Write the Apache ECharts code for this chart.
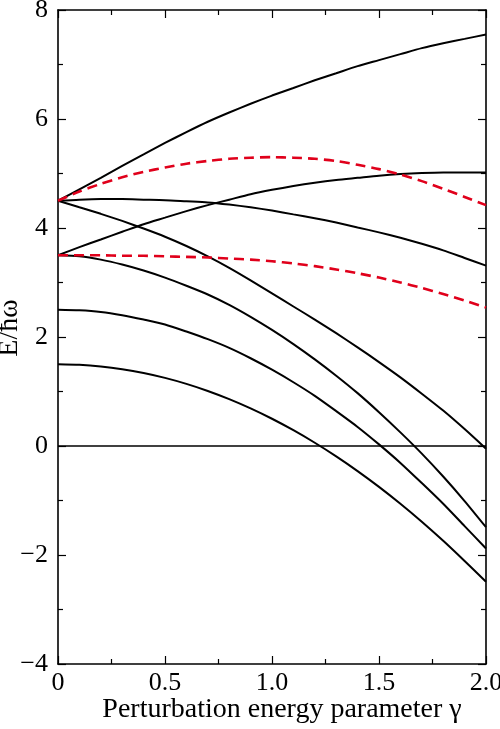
<!DOCTYPE html>
<html>
<head>
<meta charset="utf-8">
<title>E/ħω vs perturbation energy parameter</title>
<script src="https://cdn.jsdelivr.net/npm/echarts@6/dist/echarts.min.js"></script>
<style>
  html, body { margin: 0; padding: 0; background: #fff; }
  #main { width: 500px; height: 729px; }
</style>
</head>
<body>
<div id="main"></div>
<script type="text/javascript">
// perturbation energy parameter gamma (x axis)
var gamma = [0, 0.1, 0.2, 0.3, 0.4, 0.5, 0.6, 0.7, 0.8, 0.9, 1.0,
             1.1, 1.2, 1.3, 1.4, 1.5, 1.6, 1.7, 1.8, 1.9, 2.0];

// solid levels (black)
var levelA = [4.50, 4.71, 4.92, 5.14, 5.35, 5.56, 5.76, 5.95, 6.12, 6.28, 6.43,
              6.57, 6.71, 6.84, 6.97, 7.08, 7.19, 7.30, 7.39, 7.47, 7.55];
var levelB = [4.50, 4.52, 4.53, 4.53, 4.52, 4.51, 4.49, 4.47, 4.43, 4.38, 4.32,
              4.25, 4.18, 4.10, 4.01, 3.92, 3.82, 3.71, 3.59, 3.45, 3.31];
var levelC = [3.50, 3.65, 3.79, 3.93, 4.07, 4.19, 4.31, 4.42, 4.52, 4.62, 4.70,
              4.77, 4.83, 4.88, 4.92, 4.96, 4.99, 5.01, 5.02, 5.02, 5.02];
var levelD = [4.50, 4.38, 4.26, 4.13, 3.99, 3.84, 3.67, 3.48, 3.27, 3.04, 2.80,
              2.56, 2.32, 2.07, 1.81, 1.54, 1.26, 0.96, 0.65, 0.31, -0.05];
var levelE = [3.50, 3.48, 3.42, 3.33, 3.22, 3.09, 2.94, 2.78, 2.59, 2.37, 2.13,
              1.87, 1.59, 1.29, 0.97, 0.62, 0.25, -0.14, -0.56, -1.01, -1.49];
var levelF = [2.50, 2.49, 2.46, 2.40, 2.32, 2.23, 2.10, 1.96, 1.80, 1.61, 1.40,
              1.17, 0.92, 0.64, 0.35, 0.03, -0.31, -0.68, -1.06, -1.47, -1.88];
var levelG = [1.50, 1.49, 1.46, 1.41, 1.34, 1.25, 1.14, 1.01, 0.86, 0.69, 0.50,
              0.29, 0.06, -0.19, -0.46, -0.75, -1.06, -1.39, -1.74, -2.11, -2.49];

// dashed levels (red)
var dashedUpper = [4.50, 4.67, 4.81, 4.93, 5.03, 5.11, 5.18, 5.23, 5.27, 5.29, 5.30,
                   5.29, 5.27, 5.23, 5.16, 5.08, 4.98, 4.86, 4.72, 4.57, 4.42];
var dashedLower = [3.50, 3.50, 3.50, 3.49, 3.49, 3.48, 3.47, 3.46, 3.44, 3.42, 3.39,
                   3.35, 3.30, 3.24, 3.17, 3.09, 3.00, 2.90, 2.79, 2.67, 2.54];

var SERIF = 'Liberation Serif';

function pairs(ys) {
    return gamma.map(function (g, i) { return [g, ys[i]]; });
}

function solid(ys) {
    return {
        type: 'line', data: pairs(ys), smooth: 0.25,
        showSymbol: false, silent: true,
        lineStyle: { color: '#000', width: 2 }
    };
}

function dashed(ys) {
    return {
        type: 'line', data: pairs(ys), smooth: 0.25,
        showSymbol: false, silent: true,
        lineStyle: { color: '#e0001b', width: 2.6, type: [10, 6] }
    };
}

var tickStyle = { color: '#000', width: 1.2 };
var lineBlack = { color: '#000', width: 1.6 };

function frameAxis(extra) {
    var base = {
        type: 'value',
        axisLine: { onZero: false, lineStyle: lineBlack },
        axisTick: { inside: true, length: 8, lineStyle: tickStyle },
        minorTick: { show: true, splitNumber: 2, length: 5, lineStyle: tickStyle },
        splitLine: { show: false }
    };
    for (var k in extra) base[k] = extra[k];
    return base;
}

var myChart = echarts.init(document.getElementById('main'));
var option = {
    animation: false,
    backgroundColor: '#fff',
    grid: { left: 58, right: 14, top: 10, bottom: 65, outerBoundsMode: 'none', containLabel: false },
    xAxis: [
        frameAxis({
            min: 0, max: 2, interval: 0.5, position: 'bottom',
            axisLabel: {
                color: '#000', fontFamily: SERIF, fontSize: 26, margin: 6,
                formatter: function (v) { return v === 0 ? '0' : v.toFixed(1); }
            },
            name: 'Perturbation energy parameter γ',
            nameLocation: 'middle', nameGap: 32, nameMoveOverlap: false,
            nameTextStyle: { color: '#000', fontFamily: SERIF, fontSize: 28, padding: [0, 0, 0, 20] }
        }),
        frameAxis({
            min: 0, max: 2, interval: 0.5, position: 'top',
            axisLabel: { show: false }
        })
    ],
    yAxis: [
        frameAxis({
            min: -4, max: 8, interval: 2, position: 'left',
            axisLabel: {
                color: '#000', fontFamily: SERIF, fontSize: 26, margin: 10,
                formatter: function (v) { return String(v).replace('-', '\u2212'); }
            },
            name: 'E/ħω',
            nameLocation: 'middle', nameGap: 34, nameMoveOverlap: false,
            nameTextStyle: { color: '#000', fontFamily: SERIF, fontSize: 28, padding: [0, 0, 0, 18] }
        }),
        frameAxis({
            min: -4, max: 8, interval: 2, position: 'right',
            axisLabel: { show: false }
        })
    ],
    series: [
        solid(levelA),
        solid(levelB),
        solid(levelC),
        solid(levelD),
        solid(levelE),
        solid(levelF),
        {
            type: 'line', data: pairs(levelG), smooth: 0.25,
            showSymbol: false, silent: true,
            lineStyle: { color: '#000', width: 2 },
            // E = 0 reference line
            markLine: {
                silent: true, symbol: ['none', 'none'], label: { show: false },
                lineStyle: { color: '#000', type: 'solid', width: 1.6 },
                data: [{ yAxis: 0 }]
            }
        },
        dashed(dashedUpper),
        dashed(dashedLower)
    ]
};

myChart.setOption(option);
</script>
</body>
</html>
